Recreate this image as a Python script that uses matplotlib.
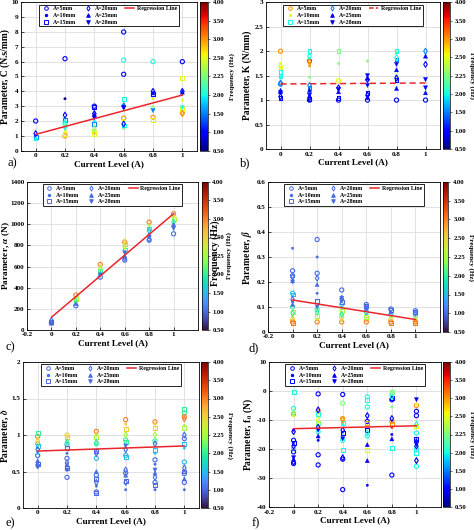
import numpy as np
import matplotlib
matplotlib.use('Agg')
import matplotlib.pyplot as plt
from matplotlib import colors
from matplotlib.cm import ScalarMappable
from matplotlib.lines import Line2D
from matplotlib.ticker import FuncFormatter

plt.rcParams['font.family'] = ['Liberation Serif', 'DejaVu Serif']
plt.rcParams['font.weight'] = 'bold'
plt.rcParams['axes.labelweight'] = 'bold'
plt.rcParams['mathtext.fontset'] = 'stix'
plt.rcParams['axes.unicode_minus'] = False

# frequency levels (colorbar) and amplitudes (markers)
freq_levels = [0.5, 1.0, 1.5, 2.0, 2.25, 2.5, 3.0, 3.5, 4.0]
freq_labels = ['0.50', '1.00', '1.50', '2.00', '2.25', '2.50', '3.00', '3.50', '4.00']
amplitudes = [5, 10, 15, 20, 25, 28]
amp_labels = ['A=5mm', 'A=10mm', 'A=15mm', 'A=20mm', 'A=25mm', 'A=28mm']

# (current A, parameter value, frequency Hz, amplitude mm)
pts_a = [(0, 2.0, 1.0, 5), (0, 1.15, 1.0, 20), (0, 0.9, 1.5, 15), (0, 0.85, 2.0, 10), (0, 0.8, 2.0, 25),
         (0.2, 6.2, 1.0, 5), (0.2, 3.5, 0.5, 10), (0.2, 2.4, 1.0, 20), (0.2, 2.1, 1.5, 15), (0.2, 2.0, 2.0, 25),
         (0.2, 1.85, 2.0, 5), (0.2, 1.6, 2.25, 20), (0.2, 1.5, 2.0, 28), (0.2, 1.3, 2.5, 10), (0.2, 1.1, 2.5, 15),
         (0.2, 1.0, 3.0, 5),
         (0.4, 3.0, 1.0, 5), (0.4, 2.95, 1.0, 15), (0.4, 2.5, 1.0, 20), (0.4, 2.45, 1.0, 25), (0.4, 2.2, 1.0, 28),
         (0.4, 2.0, 2.0, 10), (0.4, 1.8, 1.5, 15), (0.4, 1.5, 2.25, 20), (0.4, 1.3, 2.5, 5), (0.4, 1.2, 3.0, 10),
         (0.4, 1.15, 2.5, 15),
         (0.6, 8.0, 1.0, 5), (0.6, 6.1, 2.0, 5), (0.6, 5.15, 1.0, 5), (0.6, 3.5, 2.0, 15), (0.6, 3.1, 1.5, 25),
         (0.6, 3.0, 1.0, 20), (0.6, 2.9, 1.0, 28), (0.6, 2.2, 3.0, 5), (0.6, 2.05, 2.5, 10), (0.6, 1.8, 1.0, 20),
         (0.6, 1.7, 2.0, 15), (0.6, 1.5, 2.25, 10),
         (0.8, 6.0, 2.0, 5), (0.8, 4.0, 1.0, 20), (0.8, 3.9, 1.0, 25), (0.8, 3.8, 1.0, 15), (0.8, 3.5, 2.5, 10),
         (0.8, 2.85, 2.25, 20), (0.8, 2.7, 1.5, 28), (0.8, 2.25, 3.0, 5), (0.8, 2.1, 2.5, 15),
         (1, 6.0, 1.0, 5), (1, 4.9, 2.5, 15), (1, 4.0, 1.0, 20), (1, 3.95, 1.0, 25), (1, 3.4, 2.5, 10),
         (1, 2.9, 2.0, 28), (1, 2.8, 2.5, 15), (1, 2.55, 3.0, 5), (1, 2.5, 3.0, 20)]

pts_b = [(0, 2.0, 3.0, 5), (0, 1.75, 2.5, 10), (0, 1.7, 2.5, 20), (0, 1.65, 2.5, 15), (0, 1.58, 2.0, 15),
         (0, 1.5, 2.0, 15), (0, 1.48, 2.0, 10), (0, 1.35, 1.5, 20), (0, 1.33, 1.5, 5), (0, 1.2, 1.0, 25),
         (0, 1.17, 1.0, 25), (0, 1.15, 1.0, 28), (0, 1.07, 1.0, 20), (0, 1.04, 1.0, 15),
         (0.2, 2.0, 2.0, 15), (0.2, 1.9, 2.0, 20), (0.2, 1.85, 2.0, 10), (0.2, 1.8, 3.5, 5), (0.2, 1.78, 3.0, 20),
         (0.2, 1.7, 3.0, 10), (0.2, 1.47, 2.25, 10), (0.2, 1.3, 1.5, 20), (0.2, 1.25, 1.5, 15), (0.2, 1.2, 1.0, 25),
         (0.2, 1.1, 1.0, 28), (0.2, 1.05, 1.0, 20), (0.2, 1.02, 1.0, 15), (0.2, 1.0, 1.0, 5),
         (0.4, 2.0, 2.25, 15), (0.4, 1.75, 2.25, 10), (0.4, 1.4, 2.5, 5), (0.4, 1.25, 1.0, 20), (0.4, 1.22, 1.0, 28),
         (0.4, 1.17, 1.0, 25), (0.4, 1.05, 1.0, 15), (0.4, 1.0, 1.0, 5),
         (0.6, 1.8, 2.25, 10), (0.6, 1.5, 1.0, 28), (0.6, 1.45, 1.0, 25), (0.6, 1.42, 1.0, 20), (0.6, 1.3, 1.0, 28),
         (0.6, 1.15, 1.0, 15), (0.6, 1.1, 1.0, 20), (0.6, 1.05, 1.0, 25), (0.6, 1.0, 1.0, 5),
         (0.8, 2.0, 2.0, 15), (0.8, 1.98, 2.25, 10), (0.8, 1.87, 2.0, 20), (0.8, 1.83, 1.5, 15), (0.8, 1.73, 1.0, 28),
         (0.8, 1.62, 1.0, 25), (0.8, 1.5, 2.25, 10), (0.8, 1.45, 1.0, 20), (0.8, 1.42, 1.0, 15), (0.8, 1.24, 1.0, 25),
         (0.8, 1.0, 1.0, 5),
         (1, 2.0, 1.5, 20), (1, 1.9, 1.0, 25), (1, 1.73, 1.0, 20), (1, 1.42, 1.0, 28), (1, 1.25, 1.0, 28),
         (1, 1.15, 1.0, 25), (1, 1.0, 1.0, 5)]

pts_c = [(0, 90, 1.0, 20), (0, 80, 1.0, 15), (0, 70, 1.0, 5), (0, 65, 1.0, 25), (0, 60, 0.5, 10),
         (0.2, 330, 3.0, 5), (0.2, 310, 2.5, 10), (0.2, 290, 2.25, 15), (0.2, 270, 2.0, 20), (0.2, 250, 1.0, 25),
         (0.2, 230, 1.0, 5),
         (0.4, 620, 3.0, 5), (0.4, 600, 2.5, 10), (0.4, 580, 2.25, 20), (0.4, 560, 2.0, 15), (0.4, 540, 1.5, 25),
         (0.4, 520, 1.0, 28), (0.4, 500, 1.0, 5),
         (0.6, 850, 2.5, 10), (0.6, 830, 3.0, 5), (0.6, 810, 2.5, 15), (0.6, 790, 2.25, 20), (0.6, 760, 2.0, 15),
         (0.6, 730, 1.0, 28), (0.6, 700, 1.0, 25), (0.6, 680, 1.0, 20), (0.6, 660, 1.0, 5),
         (0.8, 1020, 3.0, 5), (0.8, 990, 2.25, 10), (0.8, 960, 2.0, 15), (0.8, 940, 1.5, 20), (0.8, 900, 1.0, 25),
         (0.8, 880, 1.0, 28), (0.8, 860, 1.0, 20), (0.8, 850, 1.0, 5),
         (1, 1100, 3.0, 5), (1, 1080, 2.5, 10), (1, 1050, 2.25, 15), (1, 1020, 2.0, 20), (1, 1000, 1.0, 25),
         (1, 960, 1.0, 28), (1, 910, 1.0, 5)]

pts_d = [(0, 0.335, 1.0, 10), (0, 0.245, 1.0, 5), (0, 0.225, 1.0, 5), (0, 0.22, 1.0, 20), (0, 0.205, 1.0, 25),
         (0, 0.2, 1.0, 28), (0, 0.155, 1.5, 5), (0, 0.15, 1.5, 15), (0, 0.13, 1.0, 20), (0, 0.12, 1.0, 10),
         (0, 0.11, 1.0, 25), (0, 0.1, 2.0, 5), (0, 0.08, 2.25, 15), (0, 0.075, 2.0, 20), (0, 0.06, 2.5, 10),
         (0, 0.05, 2.5, 5), (0, 0.04, 3.0, 5), (0, 0.035, 3.0, 15),
         (0.2, 0.37, 1.0, 5), (0.2, 0.3, 1.0, 10), (0.2, 0.235, 1.0, 5), (0.2, 0.215, 1.0, 20), (0.2, 0.19, 1.0, 25),
         (0.2, 0.155, 1.0, 10), (0.2, 0.125, 1.0, 15), (0.2, 0.1, 1.0, 28), (0.2, 0.09, 2.0, 5), (0.2, 0.08, 2.0, 20),
         (0.2, 0.065, 2.25, 15), (0.2, 0.05, 2.5, 10), (0.2, 0.04, 3.0, 5),
         (0.4, 0.168, 1.0, 5), (0.4, 0.14, 1.0, 25), (0.4, 0.135, 1.0, 28), (0.4, 0.13, 1.0, 20), (0.4, 0.12, 1.0, 15),
         (0.4, 0.11, 2.0, 5), (0.4, 0.1, 1.5, 10), (0.4, 0.085, 2.25, 15), (0.4, 0.07, 2.0, 20), (0.4, 0.06, 2.5, 5),
         (0.4, 0.045, 2.5, 10), (0.4, 0.04, 3.0, 5),
         (0.6, 0.11, 1.0, 5), (0.6, 0.105, 1.0, 15), (0.6, 0.1, 1.0, 20), (0.6, 0.095, 1.0, 25), (0.6, 0.08, 2.0, 5),
         (0.6, 0.07, 1.5, 10), (0.6, 0.06, 2.25, 15), (0.6, 0.05, 2.5, 5), (0.6, 0.04, 3.0, 5),
         (0.8, 0.092, 1.0, 5), (0.8, 0.088, 1.0, 15), (0.8, 0.08, 1.0, 25), (0.8, 0.07, 2.0, 5), (0.8, 0.06, 2.25, 10),
         (0.8, 0.05, 2.5, 5), (0.8, 0.04, 3.0, 5), (0.8, 0.035, 3.0, 15),
         (1, 0.085, 1.0, 5), (1, 0.08, 1.0, 15), (1, 0.075, 1.0, 20), (1, 0.065, 2.0, 5), (1, 0.055, 2.25, 10),
         (1, 0.045, 2.5, 5), (1, 0.04, 3.0, 5), (1, 0.035, 3.0, 15)]

pts_e = [(0, 1.03, 2.0, 15), (0, 0.98, 3.0, 5), (0, 0.95, 2.5, 10), (0, 0.92, 2.5, 20), (0, 0.88, 2.0, 5),
         (0, 0.85, 1.5, 15), (0, 0.8, 1.0, 20), (0, 0.75, 1.5, 10), (0, 0.72, 1.0, 5), (0, 0.65, 1.0, 25),
         (0, 0.6, 1.0, 15), (0, 0.58, 1.0, 20), (0, 0.57, 1.0, 28),
         (0.2, 1.0, 2.5, 5), (0.2, 0.97, 2.5, 15), (0.2, 0.93, 2.0, 10), (0.2, 0.9, 2.0, 20), (0.2, 0.87, 1.5, 5),
         (0.2, 0.82, 1.0, 15), (0.2, 0.75, 1.0, 10), (0.2, 0.68, 1.0, 5), (0.2, 0.62, 1.0, 20), (0.2, 0.6, 1.0, 25),
         (0.2, 0.55, 1.0, 15), (0.2, 0.52, 1.0, 28), (0.2, 0.42, 1.0, 5),
         (0.4, 1.05, 3.0, 5), (0.4, 1.0, 2.5, 10), (0.4, 0.97, 2.25, 15), (0.4, 0.9, 2.0, 20), (0.4, 0.88, 2.0, 5),
         (0.4, 0.78, 1.0, 15), (0.4, 0.75, 1.0, 20), (0.4, 0.68, 1.5, 5), (0.4, 0.5, 1.0, 25), (0.4, 0.45, 1.0, 5),
         (0.4, 0.4, 1.0, 15), (0.4, 0.35, 1.0, 20), (0.4, 0.3, 1.0, 10), (0.4, 0.22, 1.0, 5), (0.4, 0.2, 1.0, 15),
         (0.6, 1.21, 3.0, 5), (0.6, 1.15, 2.5, 10), (0.6, 1.08, 2.5, 15), (0.6, 1.0, 2.25, 20), (0.6, 0.93, 2.0, 5),
         (0.6, 0.9, 2.0, 15), (0.6, 0.85, 1.0, 28), (0.6, 0.8, 1.0, 20), (0.6, 0.72, 1.5, 5), (0.6, 0.7, 1.5, 15),
         (0.6, 0.52, 1.0, 20), (0.6, 0.48, 1.0, 5), (0.6, 0.45, 1.0, 25), (0.6, 0.37, 1.0, 15), (0.6, 0.35, 1.0, 20),
         (0.6, 0.25, 1.0, 10),
         (0.8, 1.18, 3.0, 5), (0.8, 1.15, 2.5, 10), (0.8, 1.1, 2.5, 15), (0.8, 1.0, 2.25, 20), (0.8, 0.92, 2.0, 5),
         (0.8, 0.88, 1.0, 20), (0.8, 0.8, 1.5, 15), (0.8, 0.75, 1.5, 10), (0.8, 0.66, 1.0, 5), (0.8, 0.6, 1.0, 10),
         (0.8, 0.52, 1.0, 28), (0.8, 0.48, 1.0, 25), (0.8, 0.42, 1.0, 20), (0.8, 0.35, 1.0, 5), (0.8, 0.32, 1.0, 15),
         (0.8, 0.25, 1.0, 10),
         (1, 1.35, 2.0, 15), (1, 1.3, 2.0, 5), (1, 1.25, 3.0, 5), (1, 1.22, 3.0, 20), (1, 1.13, 2.25, 10),
         (1, 1.1, 2.25, 15), (1, 1.0, 1.0, 20), (1, 0.95, 1.0, 5), (1, 0.88, 1.5, 15), (1, 0.82, 1.5, 10),
         (1, 0.63, 1.5, 5), (1, 0.55, 1.0, 20), (1, 0.5, 1.0, 15), (1, 0.47, 1.0, 5), (1, 0.4, 1.0, 25),
         (1, 0.35, 1.0, 5), (1, 0.25, 1.0, 10)]

pts_f = [(0, -0.5, 2.0, 15), (0, -6, 2.0, 5), (0, -7.5, 2.25, 20), (0, -8, 3.0, 5), (0, -8.5, 2.5, 10),
         (0, -13.5, 1.0, 10), (0, -14, 1.0, 20), (0, -17, 1.0, 5), (0, -18, 1.0, 15), (0, -19, 1.0, 20),
         (0, -20, 2.0, 5), (0, -21, 1.0, 5), (0, -23, 1.0, 28), (0, -23.5, 1.0, 25), (0, -24.5, 1.0, 20),
         (0, -25, 1.0, 5),
         (0.2, -1, 1.0, 5), (0.2, -6.5, 1.0, 20), (0.2, -7, 3.0, 5), (0.2, -7.5, 2.5, 10), (0.2, -8, 2.0, 15),
         (0.2, -10, 2.5, 20), (0.2, -11, 2.25, 15), (0.2, -12.5, 1.0, 20), (0.2, -13.5, 1.0, 28), (0.2, -14, 2.0, 5),
         (0.2, -15.5, 1.0, 25), (0.2, -17, 1.0, 10), (0.2, -22, 1.0, 5), (0.2, -25.5, 1.0, 5),
         (0.4, -1.2, 1.0, 5), (0.4, -4.2, 2.25, 5), (0.4, -9.5, 3.0, 5), (0.4, -10, 3.0, 20), (0.4, -11, 2.0, 15),
         (0.4, -11.5, 2.0, 10), (0.4, -13.5, 1.0, 20), (0.4, -14.5, 1.0, 15), (0.4, -15.5, 2.25, 10),
         (0.4, -16.5, 1.0, 28), (0.4, -17, 2.0, 5), (0.4, -20.5, 2.0, 15), (0.4, -23, 1.0, 20), (0.4, -23.5, 1.0, 5),
         (0.4, -34, 1.0, 5),
         (0.6, -2, 2.0, 5), (0.6, -3, 2.0, 15), (0.6, -5.5, 2.0, 5), (0.6, -8.5, 1.0, 20), (0.6, -10.5, 1.0, 5),
         (0.6, -11, 3.0, 15), (0.6, -12, 2.5, 10), (0.6, -13.5, 1.0, 15), (0.6, -14.5, 2.0, 20), (0.6, -15.5, 2.0, 5),
         (0.6, -18.5, 1.0, 25), (0.6, -20.5, 2.5, 15), (0.6, -24, 1.0, 25), (0.6, -32.5, 1.0, 10),
         (0.8, -0.5, 2.25, 15), (0.8, -1, 2.25, 5), (0.8, -2, 2.0, 20), (0.8, -2.5, 1.0, 15), (0.8, -3, 1.0, 5),
         (0.8, -5.5, 2.25, 10), (0.8, -9.5, 1.0, 20), (0.8, -10.5, 3.0, 5), (0.8, -11.5, 3.0, 15),
         (0.8, -12.5, 3.5, 10), (0.8, -15, 1.0, 10), (0.8, -16.5, 1.0, 25), (0.8, -19.5, 2.0, 15), (0.8, -29, 1.0, 5),
         (1, -3, 1.0, 28), (1, -4.5, 2.5, 10), (1, -5, 3.0, 5), (1, -7, 1.0, 5), (1, -8.5, 1.0, 5),
         (1, -11.5, 2.0, 20), (1, -12, 2.5, 15), (1, -14.5, 2.0, 5), (1, -16.5, 1.0, 15), (1, -17, 1.0, 25),
         (1, -18.5, 1.0, 28), (1, -19, 1.0, 20), (1, -20, 2.0, 5), (1, -21.5, 2.0, 15), (1, -24, 1.0, 20),
         (1, -26, 2.0, 5)]

# regression lines (current 0 -> 1)
reg_x = [0, 1]
reg_a = [1.1, 3.75]
reg_b = [1.33, 1.35]
reg_c = [120, 1100]
reg_d = [0.128, 0.05]
reg_e = [0.78, 0.85]
reg_f = [-13.0, -12.0]

W, H = 474, 530
fig = plt.figure(figsize=(W / 100, H / 100), dpi=100)


def px_rect(l, t, r, b):
    return [l / W, 1 - b / H, (r - l) / W, (b - t) / H]


markers = {5: 'o', 10: '.', 15: 's', 20: 'd', 25: '^', 28: 'v'}
hollow = {5: True, 10: False, 15: True, 20: True, 25: False, 28: False}
sizes = {5: 9, 10: 12, 15: 8, 20: 9, 25: 9, 28: 9}
fmt = FuncFormatter(lambda v, p: '%g' % round(v, 4))


def panel(rect, crect, pts, reg_y, cmap, xlim, xticks, ylim, yticks, ylabel, ylab_x, tag, tagpos,
          dashed=False, leg_freqs=None, cb_rot=270, cb_pad=2, ylab_size=6.9):
    ax = fig.add_axes(px_rect(*rect))
    cm_ = plt.get_cmap(cmap)
    norm = colors.Normalize(0, 8)
    for amp in amplitudes:
        sel = [p for p in pts if p[3] == amp]
        if not sel:
            continue
        xs = [p[0] for p in sel]
        ys = [p[1] for p in sel]
        cs = [cm_(norm(freq_levels.index(p[2]))) for p in sel]
        if hollow[amp]:
            ax.scatter(xs, ys, marker=markers[amp], s=sizes[amp], facecolors='none',
                       edgecolors=cs, linewidths=0.8, zorder=3)
        else:
            ax.scatter(xs, ys, marker=markers[amp], s=sizes[amp], c=cs,
                       linewidths=0.3, zorder=3)
    ax.plot(reg_x, reg_y, color='#e8262b', lw=1.1, ls=(0, (4, 2.5)) if dashed else '-', zorder=4)
    ax.set_xlim(*xlim)
    ax.set_ylim(*ylim)
    ax.set_xticks(xticks)
    ax.set_yticks(yticks)
    ax.xaxis.set_major_formatter(fmt)
    ax.yaxis.set_major_formatter(fmt)
    ax.tick_params(labelsize=5.1, direction='in', length=2, width=0.5, pad=1.8)
    ax.grid(True, color='#dcdcdc', lw=0.6)
    ax.set_axisbelow(True)
    for s in ax.spines.values():
        s.set_linewidth(0.6)
    ax.set_xlabel('Current Level (A)', fontsize=6.6, labelpad=1.5)
    ax.set_ylabel(ylabel, fontsize=ylab_size, va='center')
    ax.yaxis.set_label_coords((ylab_x - rect[0]) / (rect[2] - rect[0]), 0.5)

    # legend
    if leg_freqs is None:
        leg_freqs = [1.0] * 6
    handles = []
    for amp, lab, f in zip(amplitudes, amp_labels, leg_freqs):
        c = cm_(norm(freq_levels.index(f)))
        handles.append(Line2D([], [], ls='none', marker=markers[amp],
                              markersize=2.6 if markers[amp] != '.' else 3.5,
                              markerfacecolor='none' if hollow[amp] else c,
                              markeredgecolor=c, markeredgewidth=0.7, label=lab))
    handles.append(Line2D([], [], color='#e8262b', lw=1.1,
                          ls=(0, (3, 1.5)) if dashed else '-', label='Regression Line'))
    handles += [Line2D([], [], ls='none', label=' '), Line2D([], [], ls='none', label=' ')]
    leg = ax.legend(handles=handles, ncol=3, loc='upper center', fontsize=4.2,
                    frameon=True, fancybox=False, edgecolor='black', framealpha=1,
                    handlelength=1.6, handletextpad=0.4, columnspacing=1.2,
                    labelspacing=0.25, borderpad=0.3, borderaxespad=0.4)
    leg.get_frame().set_linewidth(0.6)

    # colorbar
    cax = fig.add_axes(px_rect(*crect))
    cb = fig.colorbar(ScalarMappable(norm=norm, cmap=cm_), cax=cax)
    cb.set_ticks(range(9))
    cb.set_ticklabels(freq_labels)
    cb.ax.tick_params(labelsize=4.8, length=1.5, width=0.4, pad=2)
    cb.outline.set_linewidth(0.5)
    cb.set_label('Frequency (Hz)', fontsize=5, rotation=cb_rot, labelpad=cb_pad,
                 va='bottom' if cb_rot == 270 else 'top')
    fig.text(tagpos[0] / W, 1 - tagpos[1] / H, tag, fontsize=9, fontweight='normal',
             ha='left', va='center')
    return ax, cb


panel((21, 2.3, 197, 150.7), (200, 2.3, 208, 150.7), pts_a, reg_a, 'jet',
      (-0.1, 1.1), [0, 0.2, 0.4, 0.6, 0.8, 1], (0, 10), range(0, 11),
      'Parameter, C (N.s/mm)', 5, 'a)', (7, 163), cb_rot=90, cb_pad=3)

panel((266, 2.3, 440, 149), (443, 2.3, 450, 149), pts_b, reg_b, 'jet',
      (-0.1, 1.1), [0, 0.2, 0.4, 0.6, 0.8, 1], (0, 3), np.arange(0, 3.01, 0.5),
      'Parameter, K (N/mm)', 247.5, 'b)', (240, 163), dashed=True,
      leg_freqs=[3.0, 2.5, 2.0, 1.5, 1.0, 1.0])

ax_c, cb_c = panel((27, 182, 198, 330), (201.5, 182, 207.5, 330), pts_c, reg_c, 'turbo',
                   (-0.2, 1.2), [-0.2, 0, 0.2, 0.4, 0.6, 0.8, 1], (0, 1400), range(0, 1401, 200),
                   r'Parameter, $\alpha$ (N)', 5.8, 'c)', (6, 347), cb_rot=90, cb_pad=1.5,
                   ylab_size=6.7)
fig.text(215 / W, 1 - 253 / H, 'Frequency (Hz)', fontsize=7, rotation=90,
         ha='center', va='center')

panel((268, 182, 440, 332), (442.5, 182, 448.5, 332), pts_d, reg_d, 'turbo',
      (-0.2, 1.2), [-0.2, 0, 0.2, 0.4, 0.6, 0.8, 1], (0, 0.6), np.arange(0, 0.61, 0.1),
      r'Parameter, $\beta$', 247.5, 'd)', (248, 348))

panel((23, 362, 199, 508), (201, 362, 208, 508), pts_e, reg_e, 'turbo',
      (-0.1, 1.1), [0, 0.2, 0.4, 0.6, 0.8, 1], (0, 2), np.arange(0, 2.01, 0.5),
      r'Parameter, $\delta$', 5, 'e)', (6, 523))

panel((269, 362, 441, 507), (443, 362, 450, 507), pts_f, reg_f, 'jet',
      (-0.2, 1.2), [-0.2, 0, 0.2, 0.4, 0.6, 0.8, 1], (-40, 10), range(-40, 11, 10),
      r'Parameter, f$_{0}$ (N)', 248, 'f)', (252, 523))

fig.savefig('out.png', dpi=100)
